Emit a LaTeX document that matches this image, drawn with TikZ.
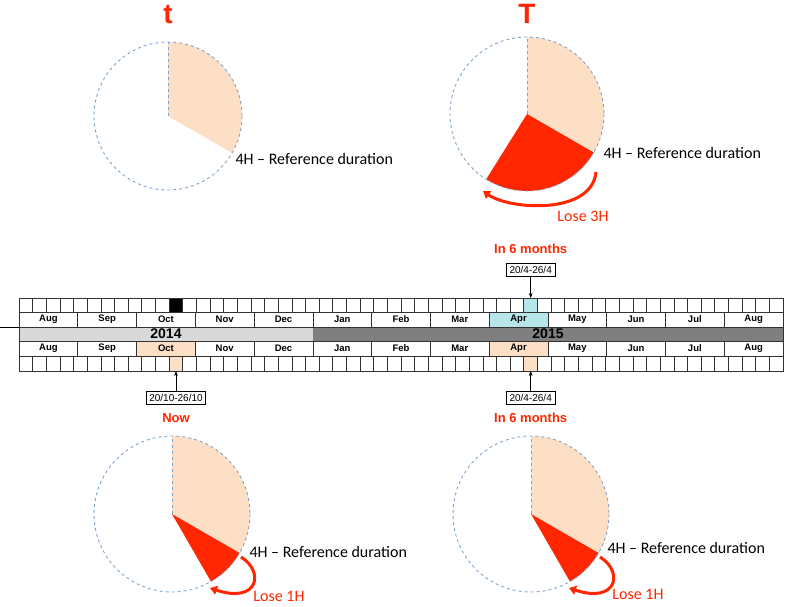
\documentclass[tikz,border=0pt]{standalone}
\usepackage{fontspec}
\setmainfont{Liberation Sans}
\newfontfamily\carlitofont{Carlito}
\usetikzlibrary{arrows.meta}
\definecolor{peach}{HTML}{FCDFC4}
\definecolor{redd}{HTML}{FF2600}
\definecolor{pieline}{HTML}{7FA3CF}
\definecolor{cyanc}{HTML}{B7E6EA}
\definecolor{lgray}{HTML}{D9D9D9}
\definecolor{dgray}{HTML}{7F7F7F}
\tikzset{
  cell/.style={draw=black!80,line width=0.6pt},
  pieedge/.style={draw=pieline,dashed,line width=0.9pt},
  datebox/.style={draw,line width=0.6pt,inner sep=3pt,font=\fontsize{10}{11}\selectfont},
  redlab/.style={text=redd,font=\bfseries\fontsize{13}{14}\selectfont},
  reflab/.style={anchor=west,font=\carlitofont\fontsize{16}{18}\selectfont},
  loselab/.style={text=redd,font=\carlitofont\fontsize{16}{18}\selectfont},
  losearrow/.style={draw=redd,line width=3pt,-{Triangle[length=7pt,width=9pt]}},
  mon/.style={font=\bfseries\fontsize{9.5}{10}\selectfont},
}
\begin{document}
\begin{tikzpicture}[x=1pt,y=-1pt]
\useasboundingbox (0,0) rectangle (785,607);
\def\wk{13.643}\def\mw{58.77}
% timeline
\draw[line width=0.6pt] (0,327) -- (19,327);
\fill[lgray] (19,327) rectangle (313,341);
\fill[dgray] (313,327) rectangle (783,341);
\draw[cell] (19,327) rectangle (783,341);
\node[font=\bfseries\fontsize{14}{15}\selectfont] (y14) at (166,334) {2014};
\node[font=\bfseries\fontsize{14}{15}\selectfont] (y15) at (548,334) {2015};
\fill (169.1,298) rectangle ++(\wk,14);
\fill[cyanc] (523.9,298) rectangle ++(\wk,14);
\fill[peach] (169.1,356) rectangle ++(\wk,15);
\fill[peach] (523.9,356) rectangle ++(\wk,15);
\fill[cyanc] (19+8*\mw,312) rectangle ++(\mw,15);
\fill[peach] (19+2*\mw,341) rectangle ++(\mw,15);
\fill[peach] (19+8*\mw,341) rectangle ++(\mw,15);
\foreach \i in {0,...,55}{
  \draw[cell] (19+\i*\wk,298) rectangle ++(\wk,14);
  \draw[cell] (19+\i*\wk,356) rectangle ++(\wk,15);
}
\foreach \m [count=\i from 0] in {Aug,Sep,Oct,Nov,Dec,Jan,Feb,Mar,Apr,May,Jun,Jul,Aug}{
  \draw[cell] (19+\i*\mw,312) rectangle ++(\mw,15);
  \draw[cell] (19+\i*\mw,341) rectangle ++(\mw,15);
  \node[mon] at (19+\i*\mw+\mw/2,319.5) {\m};
  \node[mon] at (19+\i*\mw+\mw/2,348.5) {\m};
}
\coordinate (octcell) at (176,371);
\coordinate (aprtop) at (530.7,298);
\coordinate (aprbot) at (530.7,371);
% date boxes
\node[datebox] (b1) at (530.7,270) {20/4-26/4};
\node[redlab] (l1) at (530.7,249) {In 6 months};
\draw[-{Stealth[length=5pt]},line width=0.6pt] (b1) -- (aprtop);
\node[datebox] (b2) at (176,398) {20/10-26/10};
\node[redlab] (l2) at (176,418) {Now};
\draw[-{Stealth[length=5pt]},line width=0.6pt] (b2) -- (octcell);
\node[datebox] (b3) at (530.7,398) {20/4-26/4};
\node[redlab] (l3) at (530.7,418) {In 6 months};
\draw[-{Stealth[length=5pt]},line width=0.6pt] (b3) -- (aprbot);
% titles
\node[text=redd,font=\bfseries\fontsize{28}{30}\selectfont] (tt) at (168,14) {t};
\node[text=redd,font=\bfseries\fontsize{28}{30}\selectfont] (TT) at (527,14) {T};
% pie 1
\coordinate (p1) at (168,116);
\fill[peach] (p1) -- ++(0,-74) arc[start angle=-90,end angle=30,radius=74] -- cycle;
\draw[pieedge] (p1) circle[radius=74];
\draw[pieedge] (p1) -- ++(0,-74);
\node[reflab] (r1) at (232,159) {4H – Reference duration};
% pie 2
\coordinate (p2) at (527,114);
\fill[peach] (p2) -- ++(0,-77) arc[start angle=-90,end angle=30,radius=77] -- cycle;
\fill[redd] (p2) -- ++(30:77) arc[start angle=30,end angle=122,radius=77] -- cycle;
\draw[pieedge] (p2) circle[radius=77];
\draw[pieedge] (p2) -- ++(0,-77);
\node[reflab] (r2) at (600,153) {4H – Reference duration};
\coordinate (a2s) at (596,172);
\coordinate (a2e) at (483,191);
\draw[losearrow] (a2s) .. controls (592,215) and (510,210) .. (a2e);
\node[loselab] (ls2) at (583,216) {Lose 3H};
% pie 3
\coordinate (p3) at (172,514);
\fill[peach] (p3) -- ++(0,-78) arc[start angle=-90,end angle=30,radius=78] -- cycle;
\fill[redd] (p3) -- ++(30:78) arc[start angle=30,end angle=60,radius=78] -- cycle;
\draw[pieedge] (p3) circle[radius=78];
\draw[pieedge] (p3) -- ++(0,-78);
\node[reflab] (r3) at (246,552) {4H – Reference duration};
\coordinate (a3s) at (241,557);
\coordinate (a3e) at (210,588);
\draw[losearrow] (a3s) .. controls (265,572) and (258,604) .. (a3e);
\node[loselab] (ls3) at (279,596) {Lose 1H};
% pie 4
\coordinate (p4) at (531,514);
\fill[peach] (p4) -- ++(0,-78) arc[start angle=-90,end angle=30,radius=78] -- cycle;
\fill[redd] (p4) -- ++(30:78) arc[start angle=30,end angle=60,radius=78] -- cycle;
\draw[pieedge] (p4) circle[radius=78];
\draw[pieedge] (p4) -- ++(0,-78);
\node[reflab] (r4) at (604,548) {4H – Reference duration};
\coordinate (a4s) at (600,557);
\coordinate (a4e) at (569,588);
\draw[losearrow] (a4s) .. controls (624,572) and (617,604) .. (a4e);
\node[loselab] (ls4) at (638,594) {Lose 1H};
\end{tikzpicture}
\end{document}
